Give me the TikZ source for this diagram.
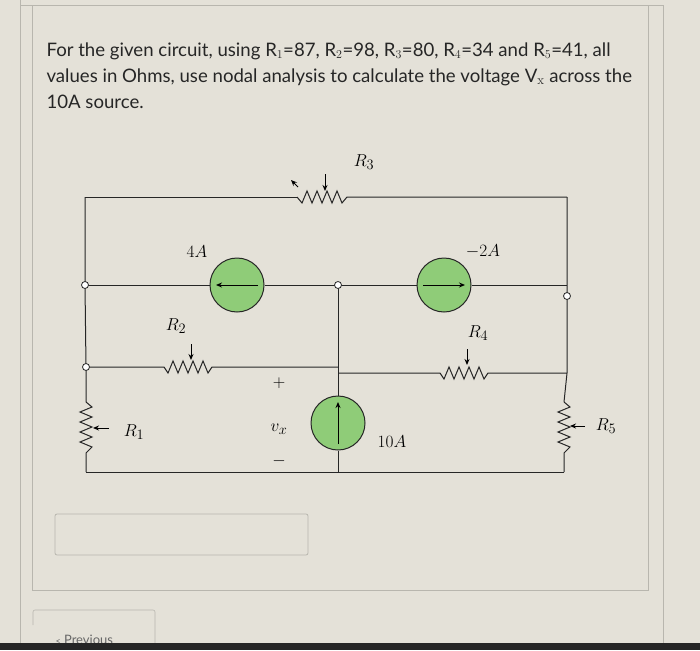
\documentclass[tikz,border=0pt]{standalone}
\usepackage{fontspec}
\setmainfont{Latin Modern Roman}
\newfontfamily\lato{Lato}
\usetikzlibrary{arrows.meta}
\definecolor{bgc}{HTML}{E4E1D8}
\definecolor{frm}{HTML}{B8B6AE}
\definecolor{src}{HTML}{8FCC78}
\begin{document}
\begin{tikzpicture}[x=1pt,y=-1pt,
  wire/.style={line width=1pt,black!85},
  srcs/.style={circle,draw=black!85,line width=1pt,fill=src,minimum size=54pt,inner sep=0pt},
  term/.style={circle,draw=black!85,line width=0.8pt,fill=white,minimum size=7pt,inner sep=0pt},
  lab/.style={font=\fontsize{19}{19}\selectfont},
  tip/.style={-{Stealth[length=6pt,width=5pt]},line width=1pt}]
\useasboundingbox (0,0) rectangle (700,650);
\fill[bgc] (0,0) rectangle (700,650);
% page frames
\draw[frm,line width=0.8pt] (20,0) -- (20,643);
\draw[frm,line width=0.8pt] (20,5) -- (663,5) -- (663,643);
\draw[frm,line width=0.6pt] (32,5) rectangle (648,590);
\draw[frm,line width=0.8pt,rounded corners=2pt] (55,514) rectangle (308,555);
\draw[frm,line width=0.6pt,rounded corners=2pt] (33,625) -- (33,610) -- (155,610) -- (155,643);
\node[anchor=west,font=\lato\fontsize{13}{13}\selectfont,text=black!60] (prev) at (52,640) {{\small\textless}\ Previous};
\fill[black!85] (0,643) rectangle (700,650);
% question text
\node[anchor=north west,align=left,font=\lato\fontsize{18.6}{26}\selectfont,text=black!85] (q) at (43,39)
 {For the given circuit, using R$_1$=87, R$_2$=98, R$_3$=80, R$_4$=34 and R$_5$=41, all\\
  values in Ohms, use nodal analysis to calculate the voltage V$_\mathrm{x}$ across the\\
  10A source.};
% nodes
\coordinate (tl) at (85,197); \coordinate (tr) at (567,197);
\node[srcs] (s4) at (237,285) {};
\node[srcs] (s2) at (444,285) {};
\node[srcs] (s10) at (338,423) {};
\coordinate (bl) at (86,472); \coordinate (br) at (564,472); \coordinate (bm) at (338,472);
% wires
\draw[wire] (tl) -- (297,197);
\draw[wire] (297,197) -- ++(5,6) -- ++(5,-12) -- ++(5,12) -- ++(5,-12) -- ++(5,12) -- ++(5,-12) -- ++(5,12) -- ++(5,-12) -- ++(5,12) -- ++(5,-6) -- (tr);
\draw[wire] (tl) -- (85,285) -- (86,367) -- (86,402);
\draw[wire] (86,402) -- ++(6,5) -- ++(-12,5) -- ++(12,5) -- ++(-12,5) -- ++(12,5) -- ++(-12,5) -- ++(12,5) -- ++(-12,5) -- ++(12,5) -- ++(-6,6) -- (bl);
\draw[wire] (bl) -- (br);
\draw[wire] (tr) -- (567,373) -- (564,402);
\draw[wire] (564,402) -- ++(6,5) -- ++(-12,5) -- ++(12,5) -- ++(-12,5) -- ++(12,5) -- ++(-12,5) -- ++(12,5) -- ++(-12,5) -- ++(12,5) -- ++(-6,6) -- (br);
\draw[wire] (85,285) -- (s4) -- (s2) -- (567,285);
\draw[wire] (86,367) -- (164,367) -- ++(4,6) -- ++(5,-12) -- ++(5,12) -- ++(5,-12) -- ++(5,12) -- ++(5,-12) -- ++(5,12) -- ++(5,-12) -- ++(5,12) -- ++(4,-6) -- (338,367);
\draw[wire] (338,373) -- (440,373) -- ++(4,6) -- ++(5,-12) -- ++(5,12) -- ++(5,-12) -- ++(5,12) -- ++(5,-12) -- ++(5,12) -- ++(5,-12) -- ++(5,12) -- ++(4,-6) -- (567,373);
\draw[wire] (338,285) -- (s10) -- (bm);
% source arrows
\draw[tip] (258,285) -- (216,285);
\draw[tip] (423,285) -- (465,285);
\draw[tip] (338,444) -- (338,402);
% terminals
\node[term] (n1) at (85,285) {};
\node[term] (n2) at (86,367) {};
\node[term] (n3) at (338,285) {};
\node[term] (n4) at (567,296) {};
% pot arrows
\draw[tip] (325,174) -- (325,191);
\draw[tip] (298,187) -- (291,180);
\draw[tip] (191,344) -- (191,360);
\draw[tip] (467,349) -- (467,365);
\draw[tip] (109,428) -- (93,428);
\draw[tip] (585,426) -- (570,426);
% labels
\node[lab] (lR3) at (364,162) {$R_3$};
\node[lab] (lR2) at (176,326) {$R_2$};
\node[lab] (lR4) at (478,333) {$R_4$};
\node[lab] (lR1) at (134,432) {$R_1$};
\node[lab] (lR5) at (606,426) {$R_5$};
\node[lab] (l4) at (197,252) {$4A$};
\node[lab] (l2) at (483,251) {$-2A$};
\node[lab] (l10) at (392,442) {$10A$};
\node[lab] (lp) at (279,383) {$+$};
\node[lab] (lv) at (279,429) {$v_x$};
\node[lab] (lm) at (279,461) {$-$};
\end{tikzpicture}
\end{document}
